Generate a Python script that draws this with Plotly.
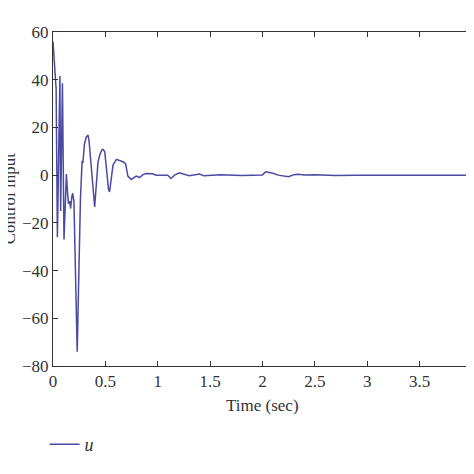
import plotly.graph_objects as go

# control input u(t)
time_s = [0.000, 0.010, 0.020, 0.030, 0.042, 0.066, 0.073, 0.090, 0.105, 0.128,
          0.140, 0.148, 0.160, 0.168, 0.180, 0.188, 0.200, 0.231, 0.262, 0.278,
          0.285, 0.300, 0.318, 0.335, 0.345, 0.370, 0.398, 0.410, 0.430, 0.450,
          0.470, 0.480, 0.494, 0.510, 0.530, 0.540, 0.555, 0.573, 0.605, 0.640,
          0.668, 0.693, 0.715, 0.747, 0.770, 0.795, 0.826, 0.860, 0.890, 0.950,
          0.985, 1.095, 1.127, 1.160, 1.206, 1.270, 1.300, 1.400, 1.440, 1.600,
          1.800, 2.000, 2.030, 2.100, 2.150, 2.250, 2.300, 2.340, 2.400, 2.500,
          2.700, 2.900, 3.500, 4.000]
control_u = [56.0, 50.0, 40.0, 36.0, -26.0, 41.6, -15.0, 38.5, -27.0, 0.5,
             -8.0, -12.0, -11.0, -14.0, -9.0, -7.6, -11.0, -74.0, -10.0, 6.0,
             5.0, 13.0, 16.0, 16.8, 14.0, 0.0, -13.3, -6.0, 5.6, 9.0,
             10.8, 10.8, 9.8, 3.0, -6.0, -7.0, -2.0, 4.2, 6.6, 6.0,
             5.6, 4.8, -0.4, -1.8, -1.0, -0.4, -1.0, 0.2, 0.7, 0.6,
             0.0, 0.0, -1.4, 0.0, 1.0, 0.0, -0.2, 0.5, -0.3, 0.2,
             -0.1, 0.1, 1.4, 0.8, 0.0, -0.7, 0.2, 0.4, 0.1, 0.2,
             -0.2, 0.0, 0.0, 0.0]

x_ticks = [0, 0.5, 1, 1.5, 2, 2.5, 3, 3.5, 4]
y_ticks = [-80, -60, -40, -20, 0, 20, 40, 60]

serif = "Liberation Serif, Times New Roman, serif"
ink = "#333333"

fig = go.Figure()
fig.add_trace(go.Scatter(
    x=time_s, y=control_u, mode="lines", name="<i>u</i>",
    line=dict(color="#4a4aa2", width=1.5),
))

axis_style = dict(
    showline=True, linecolor=ink, linewidth=1, mirror="ticks",
    ticks="inside", ticklen=5, tickcolor=ink, tickwidth=1,
    showgrid=False, zeroline=False,
    tickfont=dict(family=serif, size=17, color=ink),
)

fig.update_xaxes(range=[0, 4.02], tickvals=x_ticks,
                 ticktext=[f"{v:g}" for v in x_ticks], **axis_style)
fig.update_yaxes(range=[-80, 60], tickvals=y_ticks,
                 ticktext=[str(v).replace("-", "\u2212") for v in y_ticks], **axis_style)

fig.add_annotation(text="Time (sec)", x=2, xref="x", y=-0.117, yref="paper",
                   showarrow=False, font=dict(family=serif, size=17, color=ink),
                   xanchor="center", yanchor="middle")
# y title sits partly past the left edge, as in the source image
fig.add_annotation(text="Control input", x=-0.104, xref="paper", y=0.5, yref="paper",
                   textangle=-90, showarrow=False,
                   font=dict(family=serif, size=17, color=ink),
                   xanchor="center", yanchor="middle")

# the page body adds an 8px offset, so the figure is sized to 466 to fill the window
fig.update_layout(
    width=466, height=466,
    margin=dict(l=45, r=0, t=24, b=108),
    plot_bgcolor="white", paper_bgcolor="white",
    showlegend=True,
    legend=dict(x=-0.02, y=-0.235, xanchor="left", yanchor="middle",
                font=dict(family=serif, size=18, color=ink),
                bgcolor="rgba(0,0,0,0)"),
)

fig.write_html("out.html")
